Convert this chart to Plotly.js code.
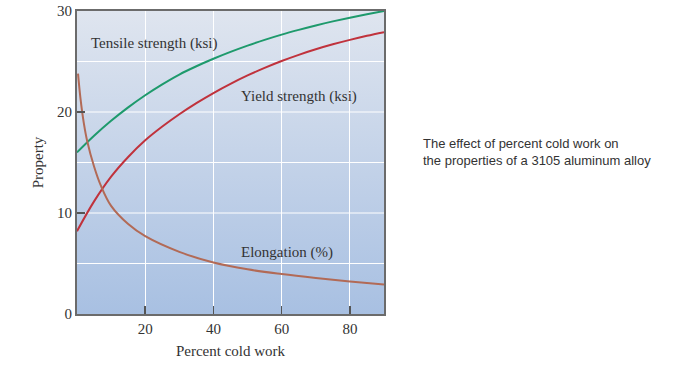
<!DOCTYPE html>
<html>
<head>
<meta charset="utf-8">
<script src="https://cdn.plot.ly/plotly-3.0.1.min.js"></script>
<style>html,body{margin:0;padding:0;background:#fff;}#chart{width:700px;height:370px;}</style>
</head>
<body>
<div id="chart"></div>
<script>
// Percent cold work
const tensileX = [0, 5, 10, 15, 20, 25, 30, 35, 40, 45, 50, 55, 60, 65, 70, 75, 80, 85, 90];
const tensileY = [16.0, 17.65, 19.13, 20.46, 21.66, 22.74, 23.71, 24.53, 25.27, 25.95, 26.57, 27.14, 27.66, 28.13, 28.57, 28.97, 29.34, 29.68, 30.0];

const yieldX = [0, 5, 10, 15, 20, 25, 30, 35, 40, 45, 50, 55, 60, 65, 70, 75, 80, 85, 90];
const yieldY = [8.2, 11.15, 13.6, 15.55, 17.2, 18.56, 19.78, 20.88, 21.88, 22.79, 23.62, 24.37, 25.05, 25.66, 26.21, 26.7, 27.14, 27.54, 27.9];

const elongX = [0.3, 1, 2, 3, 5, 7, 10, 15, 20, 30, 40, 50, 60, 70, 80, 90];
const elongY = [23.8, 21.4, 18.9, 17.1, 14.6, 12.7, 10.7, 8.9, 7.7, 6.15, 5.1, 4.42, 3.95, 3.56, 3.22, 2.92];

const xTicks = [20, 40, 60, 80];
const yTicks = [0, 10, 20, 30];

const serif = 'Liberation Serif, Times New Roman, serif';

const traces = [
  {x: tensileX, y: tensileY, type: 'scatter', mode: 'lines', line: {color: '#1e9a6c', width: 2, shape: 'spline', smoothing: 1}, hoverinfo: 'skip'},
  {x: yieldX, y: yieldY, type: 'scatter', mode: 'lines', line: {color: '#c0323c', width: 2, shape: 'spline', smoothing: 1}, hoverinfo: 'skip'},
  {x: elongX, y: elongY, type: 'scatter', mode: 'lines', line: {color: '#b26a56', width: 2, shape: 'spline', smoothing: 1}, hoverinfo: 'skip'}
];

const grad = 'data:image/svg+xml;charset=utf-8,' + encodeURIComponent(
  '<svg xmlns="http://www.w3.org/2000/svg" width="100" height="100" preserveAspectRatio="none">' +
  '<defs><linearGradient id="g" x1="0" y1="0" x2="0" y2="1">' +
  '<stop offset="0" stop-color="#dfe5ef"/><stop offset="1" stop-color="#a8c0e2"/>' +
  '</linearGradient></defs><rect width="100" height="100" fill="url(#g)"/></svg>');

const layout = {
  width: 700, height: 370,
  margin: {l: 77, r: 316, t: 11, b: 56},
  paper_bgcolor: '#ffffff',
  plot_bgcolor: 'rgba(0,0,0,0)',
  showlegend: false,
  images: [{source: grad, xref: 'paper', yref: 'paper', x: 0, y: 1, sizex: 1, sizey: 1,
            sizing: 'stretch', xanchor: 'left', yanchor: 'top', layer: 'below'}],
  xaxis: {
    range: [0, 90], dtick: 10, tick0: 0,
    showgrid: true, gridcolor: '#ffffff', gridwidth: 1,
    tickmode: 'array', tickvals: xTicks, ticktext: xTicks.map(String),
    ticks: 'inside', ticklen: 8, tickwidth: 1.5, tickcolor: '#555',
    showline: true, linecolor: '#6b6b6b', linewidth: 2, mirror: true,
    zeroline: false,
    tickfont: {family: serif, size: 15, color: '#333'},
    title: {text: 'Percent cold work', font: {family: serif, size: 15, color: '#333'}, standoff: 9}
  },
  yaxis: {
    range: [0, 30],
    tickmode: 'array', tickvals: yTicks, ticktext: yTicks.map(String),
    ticks: 'inside', ticklen: 8, tickwidth: 1.5, tickcolor: '#555',
    showline: true, linecolor: '#6b6b6b', linewidth: 2, mirror: true,
    zeroline: false, showgrid: false,
    tickfont: {family: serif, size: 15, color: '#333'},
    title: {text: 'Property', font: {family: serif, size: 15, color: '#333'}, standoff: 10}
  },
  shapes: [5, 10, 15, 20, 25].map(v => ({type: 'line', xref: 'paper', yref: 'y', x0: 0, x1: 1, y0: v, y1: v,
    line: {color: '#ffffff', width: 1}, layer: 'below'})),
  annotations: [
    {x: 3.5, y: 26.8, xref: 'x', yref: 'y', text: 'Tensile strength (ksi)', showarrow: false, xanchor: 'left',
     font: {family: serif, size: 15, color: '#333'}},
    {x: 47.6, y: 21.5, xref: 'x', yref: 'y', text: 'Yield strength (ksi)', showarrow: false, xanchor: 'left',
     font: {family: serif, size: 15, color: '#333'}},
    {x: 47.4, y: 6.1, xref: 'x', yref: 'y', text: 'Elongation (%)', showarrow: false, xanchor: 'left',
     font: {family: serif, size: 15, color: '#333'}},
    {x: 1.12, y: 0.535, xref: 'paper', yref: 'paper', xanchor: 'left', yanchor: 'middle', align: 'left',
     text: 'The effect of percent cold work on<br>the properties of a 3105 aluminum alloy', showarrow: false,
     font: {family: 'Liberation Sans, Arial, sans-serif', size: 13, color: '#333'}}
  ]
};

Plotly.newPlot('chart', traces, layout, {staticPlot: true, displayModeBar: false});
</script>
</body>
</html>
